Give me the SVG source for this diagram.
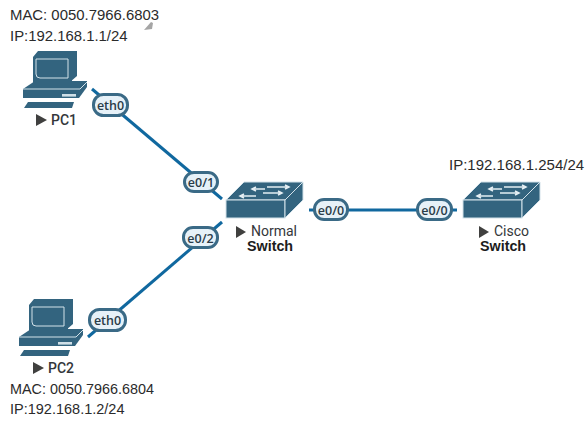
<svg xmlns="http://www.w3.org/2000/svg" xmlns:xlink="http://www.w3.org/1999/xlink" width="588" height="425" viewBox="0 0 588 425">
<style>
.t{font-family:"Liberation Sans",Arial,sans-serif;fill:#2b2b2b}
.n{font-family:Roboto,"Liberation Sans",sans-serif;font-size:14px;fill:#34373b;font-weight:500}
.r{font-weight:400}
.b{font-family:"Liberation Sans",sans-serif;font-size:14.3px;font-weight:700;fill:#1c1c1c}
.l{font-family:"Open Sans","Liberation Sans",sans-serif;font-size:12.500px;font-weight:600;fill:#2a3c48;text-anchor:middle}
.lb{fill:#e6f1f8;stroke:#3a6a86;stroke-width:3}
.c{stroke:#10689f;stroke-width:3;fill:none}
.d{fill:#33647f}
.e{stroke:#d3e2ea;stroke-width:1}
.a{fill:#40403f}
</style>
<defs>
<g id="pc">
<path class="d" d="M33 57 L38 51 L77 51 L77 76 L70 82 L70 86 L33 86 Z"/>
<path class="d" d="M33 57 L72 57 L72 82 L38 82 Q33 82 33 77 Z"/>
<path class="d e" d="M36 59 L68 59 L68 78 L40 78 Q36 78 36 74 Z"/>
<path class="d" d="M23 89 L35 81 L87 81 L87 87 L79 98 L23 98 Z"/>
<path d="M23 89 L80 89 L87 82" fill="none" stroke="#d3e2ea" stroke-width="1"/>
<rect x="62" y="94" width="14" height="2.6" fill="#cfdfe7"/>
<path class="d" d="M24 108 L28 102 L74 102 L72 108 Z"/>
</g>
<g id="sw">
<path class="d e" d="M0 18 L18 0 L77 0 L59 18 Z"/>
<rect class="d e" x="0" y="18" width="59" height="18"/>
<path class="d e" d="M59 18 L77 0 L77 18 L59 36 Z"/>
<path d="M26 7 L39 7 M30 5 L26 7 L30 9 M41 5 L62 5 M59 3 L63 5 L59 7 M37 11 L55 11 M52 9 L56 11 L52 13 M14 14 L30 14 M18 12 L14 14 L18 16" stroke="#e4eef3" stroke-width="1.5" fill="none"/>
</g>
</defs>
<rect width="588" height="425" fill="#fff"/>
<g id="connectors">
<path class="c" d="M92 89 L222 199"/>
<path class="c" d="M88 337 L222 222"/>
<path class="c" d="M309 210 L457 210"/>
</g>
<g id="pc1"><use xlink:href="#pc"/><path class="a" d="M36 114 L47 120 L36 126 Z"/><text class="n" x="51" y="125">PC1</text></g>
<g id="pc2"><use xlink:href="#pc" x="-4" y="248"/><path class="a" d="M33 362 L44 368 L33 374 Z"/><text class="n" x="48" y="373">PC2</text></g>
<g id="normal"><use xlink:href="#sw" x="226" y="182"/><path class="a" d="M236 226 L246 232 L236 238 Z"/><text class="n r" x="251" y="236">Normal</text><text class="b" x="247" y="251">Switch</text></g>
<g id="cisco"><use xlink:href="#sw" x="463" y="182"/><path class="a" d="M479 226 L489 232 L479 238 Z"/><text class="n r" x="494" y="236">Cisco</text><text class="b" x="480" y="251">Switch</text></g>
<g id="labels">
<rect class="lb" x="93.500" y="94.500" width="34" height="21" rx="10"/><text class="l" x="110.500" y="110">eth0</text>
<rect class="lb" x="184.500" y="172.500" width="33" height="19" rx="9.500"/><text class="l" x="201" y="187">e0/1</text>
<rect class="lb" x="183.500" y="227.500" width="34" height="20" rx="9.500"/><text class="l" x="200.500" y="243">e0/2</text>
<rect class="lb" x="314.500" y="199.500" width="33" height="20" rx="9.500"/><text class="l" x="331" y="215">e0/0</text>
<rect class="lb" x="417.500" y="199.500" width="34" height="20" rx="9.500"/><text class="l" x="434.500" y="215">e0/0</text>
<rect class="lb" x="89.500" y="309.500" width="36" height="21" rx="10"/><text class="l" x="107.500" y="325">eth0</text>
</g>
<g id="notes">
<text class="t" font-size="14.900" x="10" y="20">MAC: 0050.7966.6803</text>
<text class="t" font-size="14.900" x="10" y="41">IP:192.168.1.1/24</text>
<text class="t" font-size="15" x="449" y="170">IP:192.168.1.254/24</text>
<text class="t" font-size="14.400" x="10" y="394">MAC: 0050.7966.6804</text>
<text class="t" font-size="14.500" x="10" y="414">IP:192.168.1.2/24</text>
<path d="M144 30 L151 22 L153 23 L152 29 Z" fill="#a5a5a5"/>
</g>
</svg>
